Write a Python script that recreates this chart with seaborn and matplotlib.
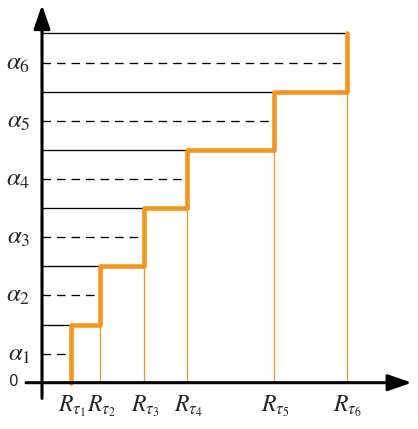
import numpy as np
import pandas as pd
import matplotlib
matplotlib.use('Agg')
import matplotlib.pyplot as plt
import seaborn as sns

# step positions on the x axis (R_tau_k) and the levels
r_pos = [2, 4, 7, 10, 16, 21]
levels = [1, 2, 3, 4, 5, 6]
alpha_labels = [r'$\alpha_{%d}$' % k for k in levels]
r_labels = [r'$R_{\tau_{%d}}$' % k for k in levels]

orange = '#F7941D'

sns.set_style('white')
plt.rcParams['mathtext.fontset'] = 'stix'
plt.rcParams['font.family'] = ['DejaVu Sans']

fig = plt.figure(figsize=(4.18, 4.29), dpi=100)
ax = fig.add_axes([0, 0, 1, 1])

# solid level lines and dashed alpha lines
ax.hlines(levels, 0, r_pos, color='black', lw=0.95, zorder=1)
ax.hlines([l - 0.5 for l in levels], 0, r_pos, color='black', lw=0.95,
          linestyles=(0, (6.5, 4.5)), zorder=1)

# thin orange drop lines
ax.vlines(r_pos[1:], 0, [l - 1 for l in levels[1:]], color=orange, lw=0.9, zorder=2)

# the staircase
step = pd.DataFrame({'x': [r_pos[0]] + r_pos, 'y': [0] + levels})
sns.lineplot(data=step, x='x', y='y', drawstyle='steps-post', estimator=None,
             sort=False, color=orange, lw=3.3, ax=ax, zorder=3)
ax.set_xlim(-42 / 14.5, (418 - 42) / 14.5)
ax.set_ylim(-46.3 / 58.2, 382.7 / 58.2)
ax.axis('off')

# axes with arrows
arrow = dict(arrowstyle='-|>,head_length=0.72,head_width=0.25', mutation_scale=20,
             lw=2.2, color='black', shrinkA=0, shrinkB=0)
ax.annotate('', xy=(0, 6.49), xytext=(0, -0.27), arrowprops=arrow, zorder=4)
ax.annotate('', xy=(25.5, 0), xytext=(-1.1, 0), arrowprops=arrow, zorder=4)

# labels
for l, lab in zip(levels, alpha_labels):
    ax.text(-0.8, l - 0.5, lab, ha='right', va='center', fontsize=18)
ax.text(-1.95, 0.02, '0', ha='center', va='center', fontsize=11)
for x, lab in zip(r_pos, r_labels):
    ax.text(x + 0.1, -0.19, lab, ha='center', va='top', fontsize=17)

fig.savefig('out.png', dpi=100)
